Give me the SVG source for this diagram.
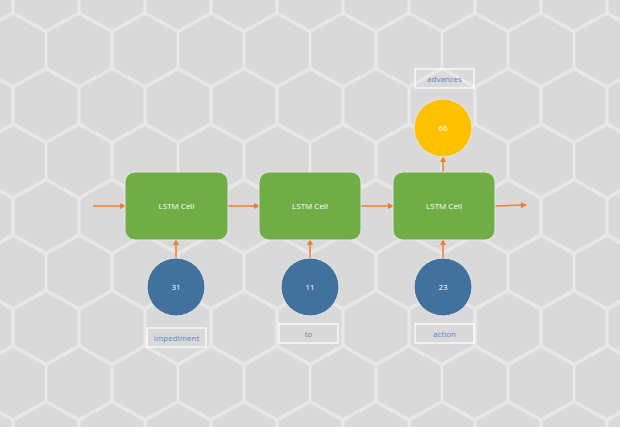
<svg xmlns="http://www.w3.org/2000/svg" width="620" height="427" viewBox="0 0 620 427">
<style>
.cell{fill:#70ad47;stroke:#e6e6e6;stroke-width:1}
.in{fill:#41719c;stroke:#e6e6e6;stroke-width:1}
.out{fill:#ffc000;stroke:#e6e6e6;stroke-width:1}
.lbl{fill:none;stroke:#ffffff;stroke-width:1.2}
.t{font-family:"Open Sans","Liberation Sans",sans-serif;font-size:8px;fill:#ffffff;text-anchor:middle}
.w{font-family:"Open Sans","Liberation Sans",sans-serif;font-size:8px;fill:#5b87c5;text-anchor:middle}
.c{stroke:#ed7d31;stroke-width:1.5;fill:none;marker-end:url(#ah)}
</style>
<defs>
<marker id="ah" markerWidth="6" markerHeight="6" refX="5" refY="3" orient="auto" markerUnits="userSpaceOnUse"><path d="M0,0 L6,3 L0,6 z" fill="#ed7d31"/></marker>
<pattern id="hex" patternUnits="userSpaceOnUse" x="46" y="-5.5" width="66" height="111">
<g fill="none" stroke="#e8e8e8" stroke-width="3">
<path d="M33,18.5 L66,37 L66,74 L33,92.5 L0,74 L0,37 Z"/>
<path d="M0,-37 L33,-18.5 L33,18.5 L0,37 L-33,18.5 L-33,-18.5 Z"/>
<path d="M66,-37 L99,-18.5 L99,18.5 L66,37 L33,18.5 L33,-18.5 Z"/>
<path d="M0,74 L33,92.5 L33,129.5 L0,148 L-33,129.5 L-33,92.5 Z"/>
<path d="M66,74 L99,92.5 L99,129.5 L66,148 L33,129.5 L33,92.5 Z"/>
</g>
</pattern>
</defs>
<rect width="620" height="427" fill="#d9d9d9"/>
<rect width="620" height="427" fill="url(#hex)"/>
<g id="connectors">
<line class="c" x1="93" y1="206" x2="125" y2="206"/>
<line class="c" x1="228" y1="206" x2="259" y2="206"/>
<line class="c" x1="361" y1="206" x2="393" y2="206"/>
<line class="c" x1="495" y1="206" x2="526" y2="205"/>
<line class="c" x1="176" y1="258" x2="176" y2="240"/>
<line class="c" x1="310" y1="258" x2="310" y2="240"/>
<line class="c" x1="443" y1="258" x2="443" y2="240"/>
<line class="c" x1="443" y1="172" x2="443" y2="157"/>
</g>
<g id="cell1"><rect class="cell" x="125" y="172" width="103" height="68" rx="10"/><text class="t" x="176.5" y="209">LSTM Cell</text></g>
<g id="cell2"><rect class="cell" x="259" y="172" width="102" height="68" rx="10"/><text class="t" x="310" y="209">LSTM Cell</text></g>
<g id="cell3"><rect class="cell" x="393" y="172" width="102" height="68" rx="10"/><text class="t" x="444" y="209">LSTM Cell</text></g>
<g id="in1"><circle class="in" cx="176" cy="287" r="29"/><text class="t" x="176" y="290">31</text></g>
<g id="in2"><circle class="in" cx="310" cy="287" r="29"/><text class="t" x="310" y="290">11</text></g>
<g id="in3"><circle class="in" cx="443" cy="287" r="29"/><text class="t" x="443" y="290">23</text></g>
<g id="out3"><circle class="out" cx="443" cy="128" r="29"/><text class="t" x="443" y="131">66</text></g>
<g id="w1"><rect class="lbl" x="147" y="328" width="59" height="19"/><text class="w" x="176.5" y="341">Impediment</text></g>
<g id="w2"><rect class="lbl" x="279" y="324" width="59" height="19"/><text class="w" x="308.5" y="337">to</text></g>
<g id="w3"><rect class="lbl" x="415" y="324" width="59" height="19"/><text class="w" x="444.5" y="337">action</text></g>
<g id="w4"><rect class="lbl" x="415" y="69" width="59" height="19"/><text class="w" x="444.5" y="82">advances</text></g>
</svg>
